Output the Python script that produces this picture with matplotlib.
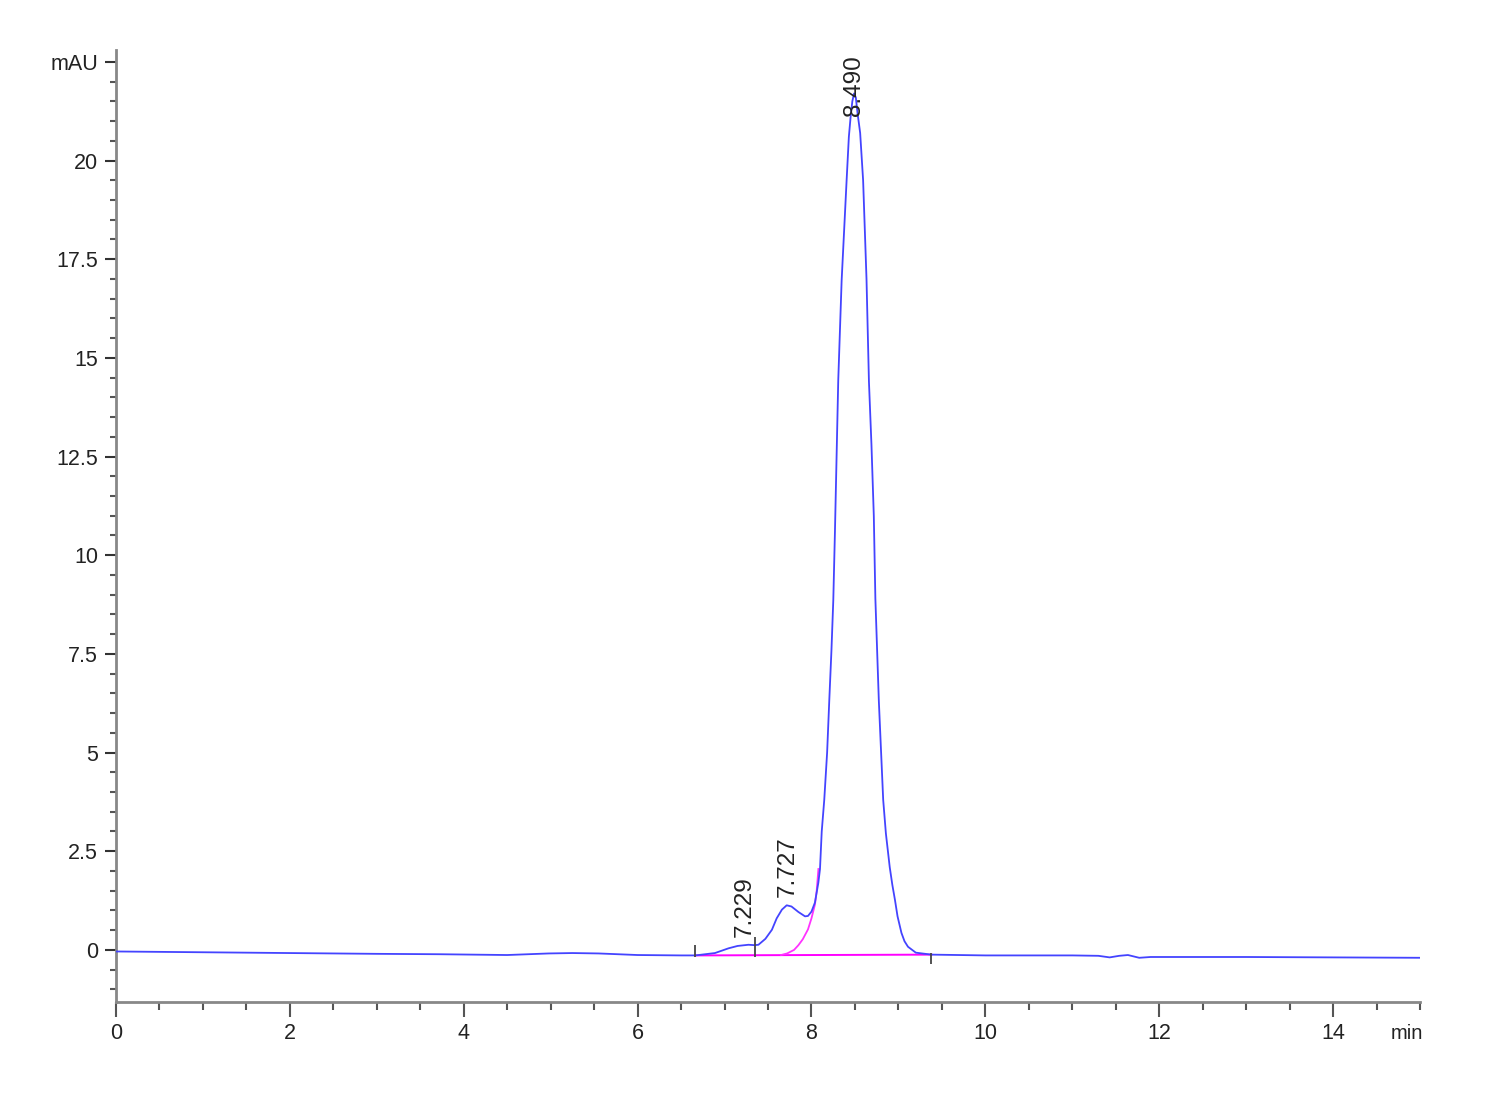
import matplotlib
matplotlib.use('Agg')
import matplotlib.pyplot as plt
from matplotlib.ticker import MultipleLocator
plt.rcParams['font.family'] = ['Liberation Sans', 'DejaVu Sans']

# 色谱信号（读图得到的点）
t_sig = [0, 1, 2, 3, 3.72, 4.5, 4.98, 5.25, 5.55, 6.0, 6.5, 6.664, 6.89, 7.046, 7.15,
         7.275, 7.345, 7.39, 7.47, 7.545, 7.60, 7.66, 7.715, 7.77, 7.85, 7.926, 7.96,
         8.00, 8.04, 8.079, 8.098, 8.118, 8.147, 8.18, 8.205, 8.23, 8.251, 8.27, 8.308,
         8.347, 8.404, 8.43, 8.45, 8.47, 8.49, 8.51, 8.53, 8.56, 8.594, 8.633, 8.661,
         8.69, 8.717, 8.735, 8.775, 8.825, 8.856, 8.90, 8.93, 8.96, 8.99, 9.035, 9.07,
         9.11, 9.2, 9.38, 10, 11, 11.3, 11.43, 11.54, 11.64, 11.77, 11.9, 12.5, 13, 14, 15]
y_sig = [-0.04, -0.06, -0.08, -0.10, -0.11, -0.13, -0.09, -0.08, -0.09, -0.13, -0.14, -0.14,
         -0.08, 0.04, 0.10, 0.13, 0.12, 0.13, 0.28, 0.51, 0.80, 1.02, 1.13, 1.10, 0.96, 0.85,
         0.86, 0.97, 1.20, 1.70, 2.05, 3.0, 3.80, 5.0, 6.33, 7.6, 8.86, 10.6, 14.43, 16.96,
         19.49, 20.6, 21.1, 21.5, 21.7, 21.6, 21.2, 20.7, 19.5, 17.0, 14.4, 12.8, 11.0, 8.9,
         6.3, 3.8, 2.95, 2.1, 1.65, 1.27, 0.85, 0.43, 0.22, 0.08, -0.07, -0.12, -0.14, -0.14,
         -0.15, -0.19, -0.15, -0.13, -0.20, -0.18, -0.18, -0.18, -0.19, -0.20]

# 积分基线与主峰拟合前沿
t_base = [6.664, 9.38]
y_base = [-0.14, -0.12]
t_fit = [7.65, 7.72, 7.80, 7.85, 7.90, 7.96, 8.00, 8.04, 8.06, 8.08]
y_fit = [-0.13, -0.09, 0.0, 0.12, 0.27, 0.52, 0.80, 1.15, 1.5, 2.05]

# 峰标记
peak_rt = [7.229, 7.727, 8.490]
peak_lbl_y = [0.33, 1.34, 21.14]
mark_t = [6.664, 7.345, 9.38]
mark_lo = [-0.18, -0.18, -0.35]
mark_hi = [0.13, 0.33, -0.08]

fig = plt.figure(figsize=(15, 11), dpi=100)
ax = fig.add_axes([0.0773, 0.0891, 0.8694, 0.8654])

ax.plot(t_base, y_base, color='#ff00ff', lw=1.4, zorder=2)
ax.plot(t_fit, y_fit, color='#ff33ff', lw=1.3, zorder=2)
ax.plot(t_sig, y_sig, color='#4444ff', lw=1.3, zorder=3)
ax.vlines(mark_t, mark_lo, mark_hi, color='#444444', lw=1.3, zorder=4)

for rt, ly in zip(peak_rt, peak_lbl_y):
    ax.text(rt, ly, f'{rt:.3f}', rotation=90, ha='center', va='bottom',
            fontsize=17.5, color='#222222')

ax.set_xlim(0, 15)
ax.set_ylim(-1.32, 22.8)
ax.xaxis.set_major_locator(MultipleLocator(2))
ax.xaxis.set_minor_locator(MultipleLocator(0.5))
ax.set_yticks([0, 2.5, 5, 7.5, 10, 12.5, 15, 17.5, 20, 22.5])
ax.set_yticklabels(['0', '2.5', '5', '7.5', '10', '12.5', '15', '17.5', '20', 'mAU'])
ax.yaxis.set_minor_locator(MultipleLocator(0.5))

for s in ['top', 'right']:
    ax.spines[s].set_visible(False)
for s in ['left', 'bottom']:
    ax.spines[s].set_color('#888888')
    ax.spines[s].set_linewidth(2)

ax.tick_params(axis='x', which='major', length=11, width=1.5, color='#555555',
               labelsize=15.5, pad=4, labelcolor='#222222')
ax.tick_params(axis='x', which='minor', length=6, width=1.5, color='#555555')
ax.tick_params(axis='y', which='major', length=8, width=1.5, color='#333333',
               labelsize=15.5, pad=5, labelcolor='#222222')
ax.tick_params(axis='y', which='minor', length=4.5, width=1.5, color='#555555')

ax.annotate('min', xy=(15, 0), xycoords=('data', 'axes fraction'),
            xytext=(2, -15.5), textcoords='offset points', ha='right', va='top',
            fontsize=14.5, color='#222222')

fig.savefig('out.png', dpi=100, facecolor='white')
